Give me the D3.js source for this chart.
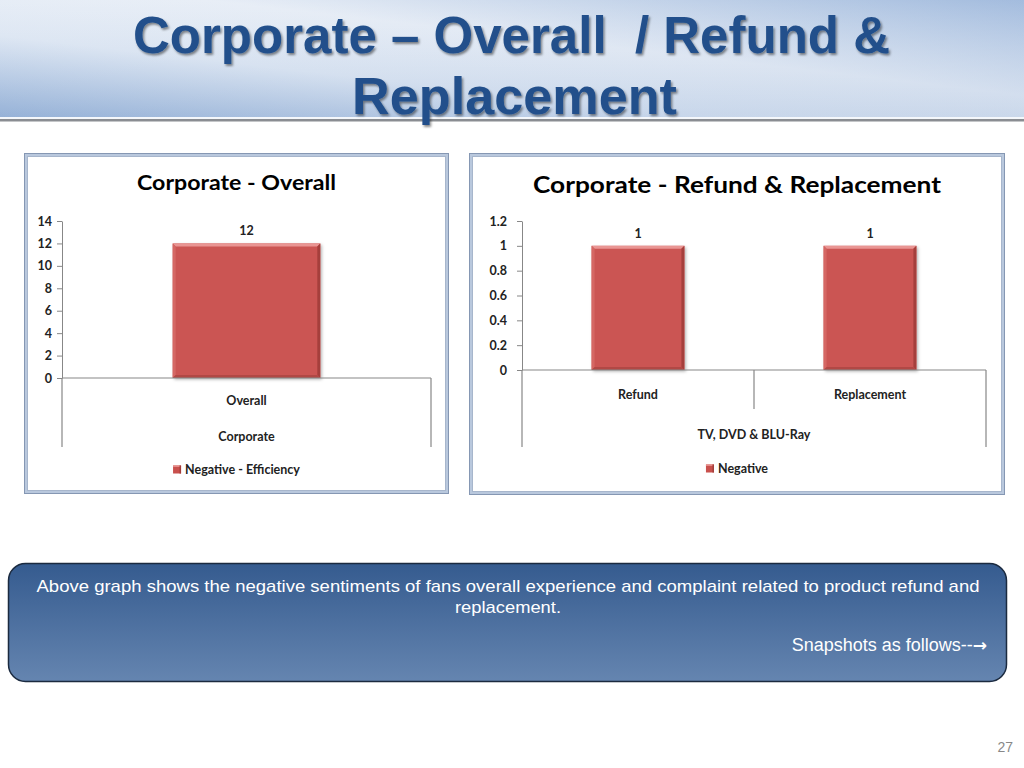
<!DOCTYPE html>
<html><head><meta charset="utf-8">
<script src="https://cdnjs.cloudflare.com/ajax/libs/d3/7.8.5/d3.min.js"></script>
<style>body{margin:0;background:#fff}svg{display:block}</style>
</head><body>
<svg id="c" width="1024" height="768"></svg>
<script>
// ---------- data ----------
const slideTitle = ["Corporate – Overall  / Refund &", "Replacement"];

const chart1Title = "Corporate - Overall";
const chart1Categories = ["Overall"];
const chart1Group = "Corporate";
const chart1Values = [12];
const chart1Series = "Negative - Efficiency";
const chart1Ticks = [0, 2, 4, 6, 8, 10, 12, 14];

const chart2Title = "Corporate - Refund & Replacement";
const chart2Categories = ["Refund", "Replacement"];
const chart2Group = "TV, DVD & BLU-Ray";
const chart2Values = [1, 1];
const chart2Series = "Negative";
const chart2Ticks = [0, 0.2, 0.4, 0.6, 0.8, 1, 1.2];

const noteLines = [
  "Above graph shows the negative sentiments of fans overall experience and complaint related to product refund and",
  "replacement."
];
const noteFooter = "Snapshots as follows--";
const noteArrow = "\u2192";
const pageNumber = "27";

// ---------- page ----------
const svg = d3.select("#c");
const defs = svg.append("defs");

const hg = defs.append("linearGradient").attr("id", "hdr").attr("x1", 0).attr("y1", 1).attr("x2", 1).attr("y2", 0);
[["0%", "#9bb6da"], ["35%", "#dfe8f4"], ["60%", "#e4ebf5"], ["100%", "#93b0d8"]].forEach(s =>
  hg.append("stop").attr("offset", s[0]).attr("stop-color", s[1]));
const hv = defs.append("linearGradient").attr("id", "hdrv").attr("x1", 0).attr("y1", 0).attr("x2", 0).attr("y2", 1);
hv.append("stop").attr("offset", "0%").attr("stop-color", "#ffffff").attr("stop-opacity", 0.15);
hv.append("stop").attr("offset", "100%").attr("stop-color", "#7f9fcc").attr("stop-opacity", 0.25);

const bg = defs.append("linearGradient").attr("id", "box").attr("x1", 0).attr("y1", 0).attr("x2", 0).attr("y2", 1);
bg.append("stop").attr("offset", "0%").attr("stop-color", "#355b8f");
bg.append("stop").attr("offset", "100%").attr("stop-color", "#6585b0");

const shadow = defs.append("filter").attr("id", "sh").attr("x", "-20%").attr("y", "-20%").attr("width", "140%").attr("height", "140%");
shadow.append("feDropShadow").attr("dx", 1.5).attr("dy", 1.5).attr("stdDeviation", 1.5).attr("flood-color", "#000").attr("flood-opacity", 0.3);

const tshadow = defs.append("filter").attr("id", "tsh").attr("x", "-5%").attr("y", "-20%").attr("width", "110%").attr("height", "140%");
tshadow.append("feDropShadow").attr("dx", 1.5).attr("dy", 2).attr("stdDeviation", 1).attr("flood-color", "#000").attr("flood-opacity", 0.45);

// header
svg.append("rect").attr("x", 0).attr("y", 0).attr("width", 1024).attr("height", 119).attr("fill", "url(#hdr)");
svg.append("rect").attr("x", 0).attr("y", 0).attr("width", 1024).attr("height", 119).attr("fill", "url(#hdrv)");
svg.append("rect").attr("x", 0).attr("y", 117).attr("width", 1024).attr("height", 2).attr("fill", "#f4f7fb");
svg.append("rect").attr("x", 0).attr("y", 119).attr("width", 1024).attr("height", 2.5).attr("fill", "#8a8d92");

const titleW = [757, 325];
svg.append("g").selectAll("text").data(slideTitle).join("text")
  .attr("x", (d, i) => i === 0 ? 511.5 : 514.5)
  .attr("y", (d, i) => 53 + i * 61)
  .attr("text-anchor", "middle")
  .style("white-space", "pre")
  .attr("font-family", "'Liberation Sans', Arial, sans-serif")
  .attr("font-weight", "bold")
  .attr("font-size", 52)
  .attr("textLength", (d, i) => titleW[i])
  .attr("lengthAdjust", "spacingAndGlyphs")
  .attr("fill", "#23508b")
  .attr("filter", "url(#tsh)")
  .text(d => d);

// ---------- charts ----------
const FONT = "Lato, 'Open Sans', sans-serif";
const FS = 12.5;

function bevelBar(g, x0, y0, w, h) {
  const x1 = x0 + w, y1 = y0 + h, b = 3;
  g.append("rect").attr("x", x0).attr("y", y0).attr("width", w).attr("height", h)
    .attr("fill", "#cb5552").attr("filter", "url(#sh)");
  const poly = (pts, fill) => g.append("polygon").attr("points", pts.map(p => p.join(",")).join(" ")).attr("fill", fill);
  poly([[x0, y0], [x1, y0], [x1 - b, y0 + b], [x0 + b, y0 + b]], "#e99593");
  poly([[x1, y0], [x1, y1], [x1 - b, y1 - b], [x1 - b, y0 + b]], "#a53f3c");
  poly([[x0, y0], [x0 + b, y0 + b], [x0 + b, y1 - b], [x0, y1]], "#d56764");
  poly([[x0, y1], [x1, y1], [x1 - b, y1 - b], [x0 + b, y1 - b]], "#b14845");
}

function bevelBarSmall(g, x0, y0, w, h) {
  g.append("rect").attr("x", x0).attr("y", y0).attr("width", w).attr("height", h).attr("fill", "#c9504d");
  g.append("rect").attr("x", x0).attr("y", y0).attr("width", w).attr("height", 1.5).attr("fill", "#e58b88");
  g.append("rect").attr("x", x0 + w - 1.5).attr("y", y0).attr("width", 1.5).attr("height", h).attr("fill", "#a33e3b");
}

function drawChart(cfg) {
  const g = svg.append("g");
  // panel border
  g.append("rect").attr("x", cfg.panel[0] + 1.5).attr("y", cfg.panel[1] + 1.5)
    .attr("width", cfg.panel[2] - 3).attr("height", cfg.panel[3] - 3)
    .attr("fill", "#fff").attr("stroke", "#b9c8dd").attr("stroke-width", 3);
  g.append("rect").attr("x", cfg.panel[0] + 0.5).attr("y", cfg.panel[1] + 0.5)
    .attr("width", cfg.panel[2] - 1).attr("height", cfg.panel[3] - 1)
    .attr("fill", "none").attr("stroke", "#8597b3").attr("stroke-width", 1);
  g.append("rect").attr("x", cfg.panel[0] + 3.5).attr("y", cfg.panel[1] + 3.5)
    .attr("width", cfg.panel[2] - 7).attr("height", cfg.panel[3] - 7)
    .attr("fill", "none").attr("stroke", "#a7b6cc").attr("stroke-width", 1);

  const cx = cfg.panel[0] + cfg.panel[2] / 2;
  g.append("text").attr("x", cx).attr("y", cfg.titleY).attr("text-anchor", "middle")
    .attr("font-family", FONT).attr("font-weight", "bold").attr("font-size", cfg.titleSize)
    .attr("textLength", cfg.titleW).attr("lengthAdjust", "spacingAndGlyphs")
    .attr("fill", "#000").text(cfg.title);

  const x = d3.scaleBand().domain(cfg.categories).range(cfg.xRange).paddingInner(0).paddingOuter(0);
  const y = d3.scaleLinear().domain([0, d3.max(cfg.ticks)]).range(cfg.yRange);

  // y axis
  const ya = g.append("g").attr("transform", `translate(${cfg.xRange[0]},0)`)
    .call(d3.axisLeft(y).tickValues(cfg.ticks).tickSize(5).tickSizeOuter(0).tickPadding(cfg.tickPad)
      .tickFormat(d3.format("~g")));
  ya.select(".domain").attr("stroke", "#878787");
  ya.selectAll(".tick line").attr("stroke", "#878787");
  ya.selectAll(".tick text").attr("font-family", FONT).attr("font-weight", "bold")
    .attr("font-size", FS).attr("fill", "#222");

  // bars
  const bw = x.bandwidth() * 0.4;
  cfg.values.forEach((v, i) => {
    const bx = x(cfg.categories[i]) + (x.bandwidth() - bw) / 2;
    bevelBar(g, bx, y(v), bw, y(0) - y(v));
    g.append("text").attr("x", bx + bw / 2).attr("y", y(v) - 8).attr("text-anchor", "middle")
      .attr("font-family", FONT).attr("font-weight", "bold").attr("font-size", FS).attr("fill", "#222")
      .text(d3.format("~g")(v));
  });

  // category axis
  const y0 = y(0);
  g.append("line").attr("x1", cfg.xRange[0]).attr("x2", cfg.xRange[1]).attr("y1", y0).attr("y2", y0)
    .attr("stroke", "#878787").attr("stroke-width", 1.2);
  [cfg.xRange[0], cfg.xRange[1]].forEach(xx =>
    g.append("line").attr("x1", xx).attr("x2", xx).attr("y1", y0).attr("y2", cfg.bottomY)
      .attr("stroke", "#878787").attr("stroke-width", 1.2));
  cfg.categories.slice(1).forEach(c =>
    g.append("line").attr("x1", x(c)).attr("x2", x(c)).attr("y1", y0).attr("y2", y0 + 39)
      .attr("stroke", "#878787").attr("stroke-width", 1.2));
  cfg.categories.forEach(c =>
    g.append("text").attr("x", x(c) + x.bandwidth() / 2).attr("y", cfg.catY).attr("text-anchor", "middle")
      .attr("font-family", FONT).attr("font-weight", "bold").attr("font-size", FS).attr("fill", "#222").text(c));
  g.append("text").attr("x", (cfg.xRange[0] + cfg.xRange[1]) / 2).attr("y", cfg.groupY).attr("text-anchor", "middle")
    .attr("font-family", FONT).attr("font-weight", "bold").attr("font-size", FS).attr("fill", "#222").text(cfg.group);

  // legend
  const lg = g.append("g");
  const lt = lg.append("text").attr("x", 12).attr("y", 0)
    .attr("font-family", FONT).attr("font-weight", "bold").attr("font-size", FS).attr("fill", "#222").text(cfg.series);
  const tw = lt.node().getComputedTextLength();
  bevelBarSmall(lg, 0, -8.5, 8, 8);
  lg.attr("transform", `translate(${cx - (12 + tw) / 2},${cfg.legendY})`);
}

drawChart({
  panel: [24, 153, 425, 341], title: chart1Title, titleY: 190, titleSize: 21, titleW: 199,
  categories: chart1Categories, values: chart1Values, ticks: chart1Ticks, tickPad: 5,
  group: chart1Group, series: chart1Series,
  xRange: [62, 431], yRange: [378, 221], catY: 405, groupY: 441, bottomY: 447, legendY: 474
});
drawChart({
  panel: [469, 153, 536, 342], title: chart2Title, titleY: 193, titleSize: 22.5, titleW: 408,
  categories: chart2Categories, values: chart2Values, ticks: chart2Ticks, tickPad: 10,
  group: chart2Group, series: chart2Series,
  xRange: [522, 986], yRange: [370, 221], catY: 399, groupY: 439, bottomY: 447, legendY: 473
});

// ---------- note box ----------
const NFONT = "'Liberation Sans', Arial, sans-serif";
svg.append("rect").attr("x", 8.5).attr("y", 563.5).attr("width", 998).attr("height", 118).attr("rx", 17)
  .attr("fill", "url(#box)").attr("stroke", "#1b2a3f").attr("stroke-width", 1.5);
const noteW = [943, 106];
svg.append("g").selectAll("text").data(noteLines).join("text")
  .attr("x", 508).attr("y", (d, i) => 592 + i * 21).attr("text-anchor", "middle")
  .attr("font-family", NFONT).attr("font-size", 17).attr("fill", "#fff")
  .attr("textLength", (d, i) => noteW[i]).attr("lengthAdjust", "spacingAndGlyphs")
  .text(d => d);
const ft = svg.append("text").attr("x", 987).attr("y", 651).attr("text-anchor", "end")
  .attr("font-family", NFONT).attr("font-size", 18).attr("fill", "#fff");
ft.append("tspan").text(noteFooter);
ft.append("tspan").attr("font-family", "'DejaVu Sans', sans-serif").attr("font-weight", "bold").attr("font-size", 17).text(noteArrow);

svg.append("text").attr("x", 1013).attr("y", 752).attr("text-anchor", "end")
  .attr("font-family", NFONT).attr("font-size", 14).attr("fill", "#888")
  .text(pageNumber);
</script>
</body></html>
